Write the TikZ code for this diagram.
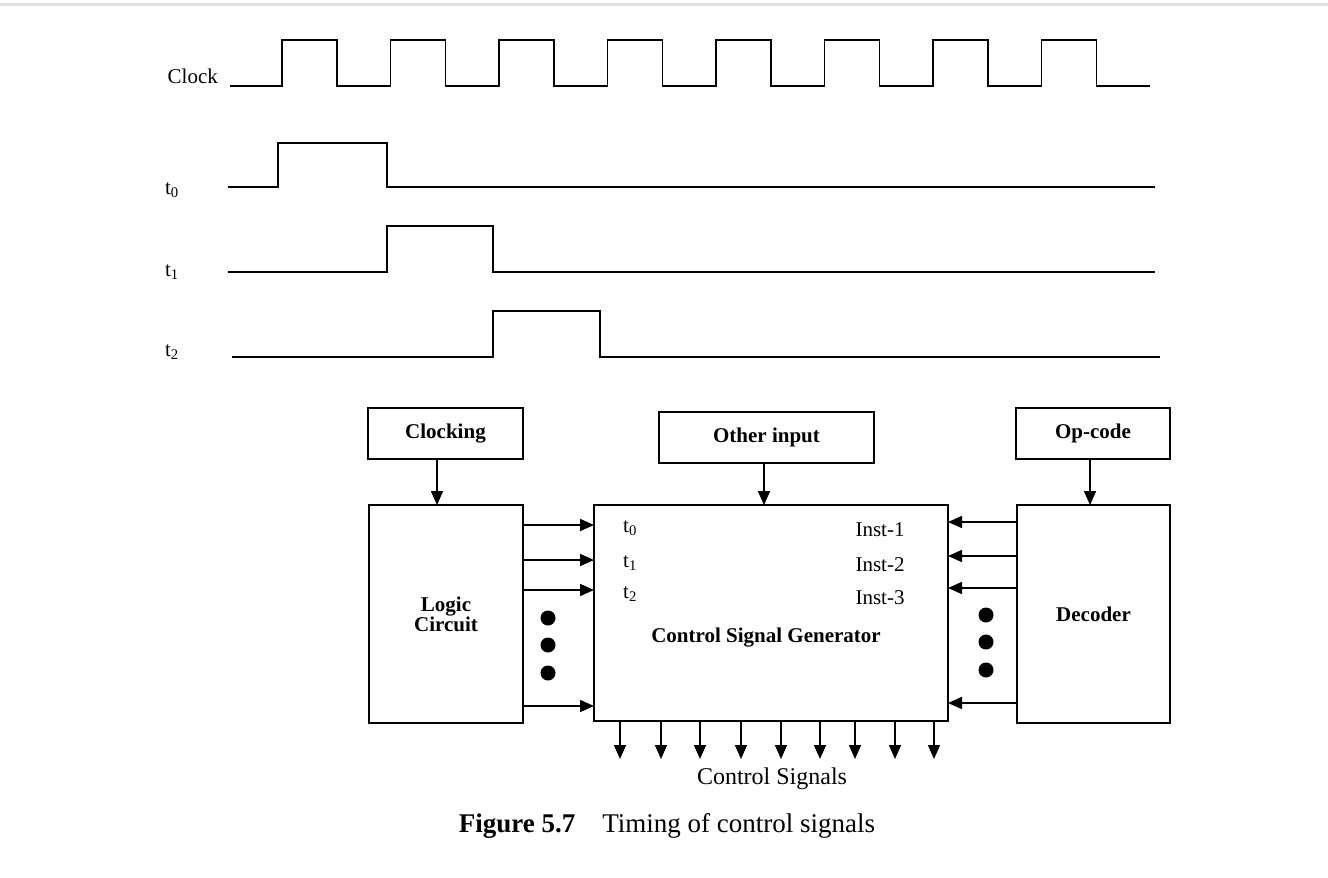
\documentclass[tikz,border=0pt]{standalone}
\usepackage{fontspec}
\setmainfont{Liberation Serif}
\usetikzlibrary{arrows.meta}
\begin{document}
\begin{tikzpicture}[x=1pt,y=-1pt,line width=1.6pt,
  box/.style={draw,minimum width=#1,inner sep=0pt,font=\fontsize{21}{24}\selectfont\bfseries},
  arr/.style={-{Triangle[length=14pt,width=12pt]}},
  lbl/.style={font=\fontsize{21}{24}\selectfont},
  dot/.style={fill,circle,inner sep=0pt,minimum size=15pt}]
\useasboundingbox (0,0) rectangle (1328,878);
\fill[white] (0,0) rectangle (1328,878);
\draw[black!12,line width=3pt] (0,4) -- (1328,4);
% waveforms
\node[lbl,anchor=east] (lclk) at (222,76) {Clock};
\draw (230,86) foreach \r in {282,390.5,499,607.5,716,824.5,933,1041.5}{ -- (\r,86) -- (\r,40) -- (\r+55,40) -- (\r+55,86)} -- (1150,86);
\node[lbl] (lt0) at (172,190) {t\textsubscript{0}};
\draw (228,187) -- (278,187) -- (278,143) -- (387,143) -- (387,187) -- (1155,187);
\node[lbl] (lt1) at (172,272) {t\textsubscript{1}};
\draw (228,272) -- (387,272) -- (387,226) -- (493,226) -- (493,272) -- (1155,272);
\node[lbl] (lt2) at (172,352) {t\textsubscript{2}};
\draw (232,357) -- (493,357) -- (493,311) -- (600,311) -- (600,357) -- (1160,357);
% boxes
\node[box=155pt,minimum height=51pt] (clk) at (445.5,433.5) {Clocking};
\node[box=215pt,minimum height=51pt] (oth) at (766.5,437.5) {Other input};
\node[box=154pt,minimum height=51pt] (op) at (1093,433.5) {Op-code};
\node[box=154pt,minimum height=218pt,align=center] (lc) at (446,614) {Logic\\[-4pt]Circuit};
\node[box=354pt,minimum height=216pt] (csg) at (771,613) {};
\node[box=153pt,minimum height=218pt] (dec) at (1093.5,614) {Decoder};
\node[font=\fontsize{21}{24}\selectfont\bfseries] (csgl) at (766,638) {Control Signal Generator};
\draw[arr] (437,459) -- (437,505);
\draw[arr] (764,463) -- (764,505);
\draw[arr] (1090,459) -- (1090,505);
\foreach \y in {525,560,590,706} \draw[arr] (523,\y) -- (594,\y);
\foreach \y in {522,556,588,703} \draw[arr] (1017,\y) -- (948,\y);
\foreach \y in {618,645,673} \node[dot] at (548,\y) {};
\foreach \y in {615,642,670} \node[dot] at (986,\y) {};
\node[lbl] (i0) at (630,528) {t\textsubscript{0}};
\node[lbl] (i1) at (630,563) {t\textsubscript{1}};
\node[lbl] (i2) at (630,594) {t\textsubscript{2}};
\node[lbl] (n1) at (880,530) {Inst-1};
\node[lbl] (n2) at (880,565) {Inst-2};
\node[lbl] (n3) at (880,598) {Inst-3};
\foreach \x in {620,661,700,741,781,820,855,895,934} \draw[arr] (\x,721) -- (\x,759);
\node[font=\fontsize{24}{28}\selectfont] (cs) at (772,779) {Control Signals};
\node[font=\fontsize{27}{30}\selectfont] (cap) at (667,826) {\textbf{Figure 5.7}\quad Timing of control signals};
\end{tikzpicture}
\end{document}
